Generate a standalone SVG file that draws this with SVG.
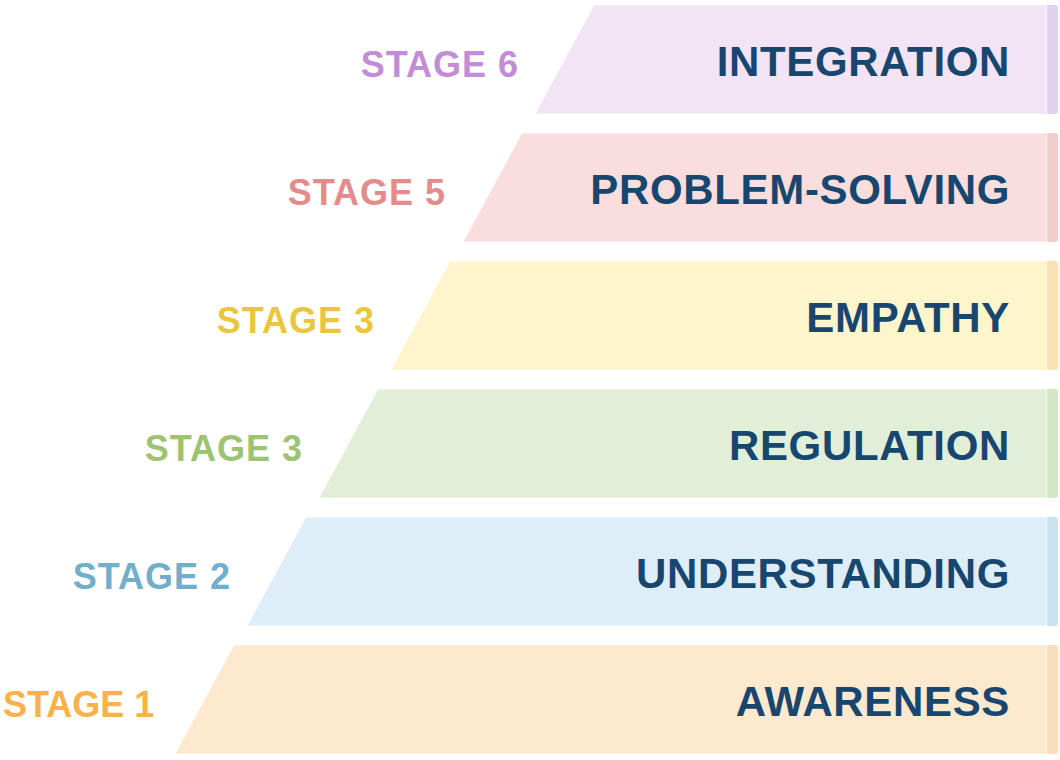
<svg xmlns="http://www.w3.org/2000/svg" width="1060" height="760" viewBox="0 0 1060 760">
  <style>
    .title { font-family: "Liberation Sans", Arial, sans-serif; font-weight: 700; font-size: 42px; letter-spacing: 0.65px; fill: #17466E; text-anchor: end; }
    .stage { font-family: "Liberation Sans", Arial, sans-serif; font-weight: 700; font-size: 36px; letter-spacing: 1px; text-anchor: end; }
    .band { stroke: #ffffff; stroke-opacity: 0.6; stroke-width: 1; }
    .sep { stroke: #ffffff; stroke-opacity: 0.7; stroke-width: 1.2; }
  </style>
  <rect width="1060" height="760" fill="#ffffff"/>

  <g id="stage6">
    <polygon class="band" points="594,5 1050,5 1050,114 535,114" fill="#F2E4F5"/>
    <rect x="1046" y="5" width="12" height="109" rx="3" fill="#E3D0EC"/>
    <line class="sep" x1="1046.5" y1="5" x2="1046.5" y2="114"/>
    <text class="stage" x="519" y="77" fill="#C38CD6">STAGE 6</text>
    <text class="title" x="1010" y="76">INTEGRATION</text>
  </g>

  <g id="stage5">
    <polygon class="band" points="522,133 1050,133 1050,242 463,242" fill="#FADDDD"/>
    <rect x="1046" y="133" width="12" height="109" rx="3" fill="#EFCFCB"/>
    <line class="sep" x1="1046.5" y1="133" x2="1046.5" y2="242"/>
    <text class="stage" x="446" y="205" fill="#E58B8B">STAGE 5</text>
    <text class="title" x="1010" y="204">PROBLEM-SOLVING</text>
  </g>

  <g id="stage4">
    <polygon class="band" points="450,261 1050,261 1050,370 391,370" fill="#FEF5CC"/>
    <rect x="1046" y="261" width="12" height="109" rx="3" fill="#F8E1B2"/>
    <line class="sep" x1="1046.5" y1="261" x2="1046.5" y2="370"/>
    <text class="stage" x="375" y="333" fill="#E9C63C">STAGE 3</text>
    <text class="title" x="1010" y="332">EMPATHY</text>
  </g>

  <g id="stage3">
    <polygon class="band" points="378,389 1050,389 1050,498 319,498" fill="#E2EFD8"/>
    <rect x="1046" y="389" width="12" height="109" rx="3" fill="#D3E6C8"/>
    <line class="sep" x1="1046.5" y1="389" x2="1046.5" y2="498"/>
    <text class="stage" x="303" y="461" fill="#9CC36F">STAGE 3</text>
    <text class="title" x="1010" y="460">REGULATION</text>
  </g>

  <g id="stage2">
    <polygon class="band" points="306,517 1050,517 1050,626 247,626" fill="#DDEEF8"/>
    <rect x="1046" y="517" width="12" height="109" rx="3" fill="#CBE1EE"/>
    <line class="sep" x1="1046.5" y1="517" x2="1046.5" y2="626"/>
    <text class="stage" x="231" y="589" fill="#70AECB">STAGE 2</text>
    <text class="title" x="1010" y="588">UNDERSTANDING</text>
  </g>

  <g id="stage1">
    <polygon class="band" points="234,645 1050,645 1050,754 175,754" fill="#FDE9CD"/>
    <rect x="1046" y="645" width="12" height="109" rx="3" fill="#F8DDB8"/>
    <line class="sep" x1="1046.5" y1="645" x2="1046.5" y2="754"/>
    <text class="stage" x="3" y="717" fill="#F9B24A" style="text-anchor: start; letter-spacing: 0px;">STAGE 1</text>
    <text class="title" x="1010" y="716">AWARENESS</text>
  </g>
</svg>
